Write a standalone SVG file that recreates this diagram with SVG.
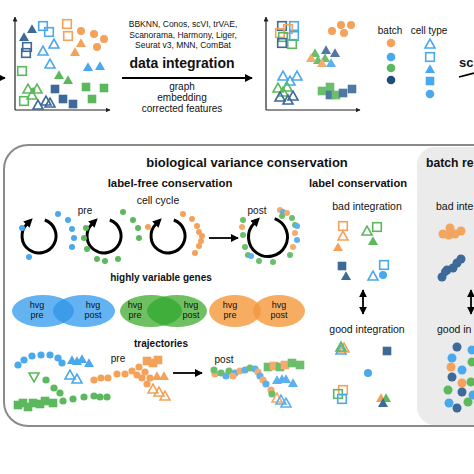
<svg xmlns="http://www.w3.org/2000/svg" xmlns:xlink="http://www.w3.org/1999/xlink" width="474" height="474" viewBox="0 0 474 474">
<style>
text{font-family:"Liberation Sans",Arial,sans-serif;fill:#111}
.b{font-weight:bold}
.fo{fill:#f4a259}.fb{fill:#4aa8ec}.fg{fill:#5cb85c}.fd{fill:#3d6a99}
.so{fill:none;stroke:#f4a259;stroke-width:1.6}.sb{fill:none;stroke:#4aa8ec;stroke-width:1.6}
.sg{fill:none;stroke:#5cb85c;stroke-width:1.6}.sd{fill:none;stroke:#3d6a99;stroke-width:1.6}
.ax{stroke:#222;stroke-width:1.2;fill:none}
.cyc{fill:none;stroke:#000;stroke-width:3;marker-end:url(#ah)}
.arr{stroke:#000;stroke-width:1.8;fill:none}
.t{opacity:.9}
</style>
<defs>
<path id="T" d="M0,-4.8 L5,4 L-5,4 Z"/>
<path id="V" d="M0,4.8 L5,-4 L-5,-4 Z"/>
<rect id="S" x="-4.3" y="-4.3" width="8.6" height="8.6"/>
<circle id="C" r="4"/>
<circle id="c" r="3"/>
<circle id="D" r="3.6"/>
<marker id="ah" viewBox="0 0 10 10" refX="1" refY="5" markerWidth="9" markerHeight="9" markerUnits="userSpaceOnUse" orient="auto"><path d="M0,0 L10,5 L0,10 Z" fill="#000"/></marker>
<marker id="ax" viewBox="0 0 10 10" refX="9" refY="5" markerWidth="5" markerHeight="5" markerUnits="userSpaceOnUse" orient="auto"><path d="M0,0 L10,5 L0,10 Z" fill="#222"/></marker>
<marker id="ar" viewBox="0 0 10 10" refX="9" refY="5" markerWidth="8" markerHeight="8" markerUnits="userSpaceOnUse" orient="auto-start-reverse"><path d="M0,0 L10,5 L0,10 Z" fill="#000"/></marker>
<clipPath id="cb"><ellipse cx="43" cy="311" rx="31" ry="16"/></clipPath>
<clipPath id="cg"><ellipse cx="151" cy="311" rx="31" ry="16"/></clipPath>
<clipPath id="co"><ellipse cx="235" cy="311" rx="26" ry="16"/></clipPath>
</defs>

<!-- panel backgrounds -->
<rect x="417" y="147" width="80" height="278" rx="18" fill="#ebebeb"/>
<rect x="4" y="145" width="520" height="281" rx="24" fill="none" stroke="#8a8a8a" stroke-width="2"/>

<g id="connectors">
<path d="M0,78 L5,78" class="arr" marker-end="url(#ar)"/>
<path d="M122,78 L252,78" class="arr" marker-end="url(#ar)"/>
<path d="M459,77 Q466,75 474,73" class="arr"/>
<path d="M209,238 L238,238" class="arr" marker-end="url(#ar)"/>
<path d="M173,373 L202,373" class="arr" marker-end="url(#ar)"/>
<path d="M363,290 L363,314" class="arr" marker-start="url(#ar)" marker-end="url(#ar)"/>
<path d="M471,290 L471,314" class="arr" marker-start="url(#ar)" marker-end="url(#ar)"/>
</g>

<!-- before integration plot -->
<g id="plot-before">
<path class="ax" d="M15,110 L15,17" marker-end="url(#ax)"/>
<path class="ax" d="M15,110 L110,110" marker-end="url(#ax)"/>
<use href="#T" x="32" y="29" class="fd"/><use href="#T" x="24" y="37" class="fd"/>
<use href="#S" x="43" y="26" class="sb"/><use href="#S" x="49" y="32" class="sb"/>
<use href="#S" x="67" y="24" class="so"/><use href="#S" x="68" y="36" class="so"/>
<use href="#C" x="81" y="31" class="fo"/><use href="#C" x="94" y="34" class="fo"/><use href="#C" x="104" y="39" class="fo"/><use href="#C" x="97" y="47" class="fo"/>
<use href="#T" x="81" y="43" class="fo"/><use href="#T" x="75" y="52" class="fo"/>
<use href="#S" x="27" y="47" class="sd"/><use href="#S" x="26" y="53" class="sd"/>
<use href="#T" x="43" y="51" class="sb"/><use href="#T" x="54" y="44" class="sb"/><use href="#T" x="50" y="64" class="sb"/>
<use href="#T" x="88" y="67" class="fb"/><use href="#T" x="100" y="66" class="fb"/>
<use href="#S" x="22" y="71" class="sg"/>
<use href="#T" x="59" y="75" class="fg"/><use href="#T" x="68" y="80" class="fg"/>
<use href="#T" x="28" y="89" class="sg"/><use href="#T" x="37" y="89" class="sg"/><use href="#T" x="32" y="95" class="sg"/>
<circle cx="33" cy="90" r="2.5" class="fg"/>
<use href="#S" x="24" y="101" class="sg"/>
<use href="#T" x="38" y="105" class="sd"/><use href="#T" x="46" y="101" class="sd"/><use href="#T" x="50" y="103" class="sd"/>
<use href="#S" x="55" y="89" class="fd"/><use href="#S" x="63" y="99" class="fd"/><use href="#S" x="73" y="104" class="fd"/>
<use href="#S" x="86" y="87" class="fg"/><use href="#S" x="104" y="88" class="fg"/><use href="#S" x="92" y="99" class="fg"/>
</g>

<g id="data-integration">
<text x="183" y="27" font-size="8.5" text-anchor="middle">BBKNN, Conos, scVI, trVAE,</text>
<text x="183" y="38" font-size="8.5" text-anchor="middle">Scanorama, Harmony, Liger,</text>
<text x="183" y="48" font-size="8.5" text-anchor="middle">Seurat v3, MNN, ComBat</text>
<text x="182" y="68" font-size="14" class="b" text-anchor="middle">data integration</text>
<text x="182" y="90" font-size="10" text-anchor="middle">graph</text>
<text x="182" y="101" font-size="10" text-anchor="middle">embedding</text>
<text x="182" y="112" font-size="10" text-anchor="middle">corrected features</text>
</g>

<!-- after integration plot -->
<g id="plot-after">
<path class="ax" d="M266,110 L266,17" marker-end="url(#ax)"/>
<path class="ax" d="M266,110 L360,110" marker-end="url(#ax)"/>
<use href="#S" x="282" y="26" class="sd"/><use href="#S" x="294" y="26" class="sb"/><use href="#S" x="288" y="29" class="so"/>
<use href="#S" x="280" y="33" class="so"/><use href="#S" x="294" y="36" class="sb"/><use href="#S" x="283" y="37" class="sg"/>
<use href="#S" x="282" y="43" class="sd"/><use href="#S" x="292" y="44" class="sg"/>
<use href="#C" x="332" y="31" class="fo"/><use href="#C" x="341" y="25" class="fo"/><use href="#C" x="351" y="25" class="fo"/><use href="#C" x="344" y="33" class="fo"/>
<g class="t">
<use href="#T" x="315" y="53" class="fg"/><use href="#T" x="326" y="50" class="fd"/><use href="#T" x="335" y="53" class="fd"/>
<use href="#T" x="318" y="60" class="fg"/><use href="#T" x="325" y="58" class="fg"/><use href="#T" x="322" y="63" class="fo"/>
<use href="#T" x="331" y="63" class="fb"/><use href="#T" x="311" y="58" class="fo"/>
</g>
<use href="#T" x="283" y="76" class="sb"/><use href="#T" x="297" y="76" class="sb"/><use href="#T" x="290" y="81" class="sb"/>
<use href="#T" x="278" y="88" class="sg"/><use href="#T" x="287" y="87" class="sg"/><use href="#T" x="283" y="92" class="sg"/>
<use href="#T" x="280" y="97" class="sd"/><use href="#T" x="288" y="100" class="sd"/><use href="#T" x="293" y="96" class="sd"/>
<g class="t">
<use href="#S" x="322" y="91" class="fg"/><use href="#S" x="330" y="87" class="fg"/><use href="#S" x="330" y="95" class="fd"/>
<use href="#S" x="336" y="95" class="fg"/><use href="#S" x="343" y="93" class="fd"/><use href="#S" x="352" y="89" class="fd"/>
</g>
</g>

<g id="legend">
<text x="390" y="34" font-size="10" text-anchor="middle">batch</text>
<text x="429" y="34" font-size="10" text-anchor="middle">cell type</text>
<circle cx="391" cy="43" r="4.3" class="fo"/><circle cx="391" cy="57" r="4.3" class="fb"/>
<circle cx="391" cy="68" r="4.3" class="fg"/><circle cx="391" cy="80" r="4.3" fill="#1f4e7a"/>
<use href="#T" x="430" y="44" class="sb"/><use href="#S" x="430" y="57" class="sb"/>
<use href="#T" x="430" y="69" class="fb"/><use href="#S" x="430" y="81" class="fb"/><circle cx="430" cy="94" r="4.3" class="fb"/>
</g>
<text x="459" y="67" font-size="13" class="b">sc</text>

<!-- titles -->
<text x="247" y="167" font-size="13" class="b" text-anchor="middle">biological variance conservation</text>
<text x="170" y="187" font-size="11.4" class="b" text-anchor="middle">label-free conservation</text>
<text x="358" y="187" font-size="11.2" class="b" text-anchor="middle">label conservation</text>
<text x="426" y="167" font-size="12.2" class="b">batch re</text>

<g id="cell-cycle">
<text x="158" y="204" font-size="10.5" text-anchor="middle">cell cycle</text>
<text x="85" y="214" font-size="10" text-anchor="middle">pre</text>
<text x="257" y="214" font-size="10" text-anchor="middle">post</text>
<path class="cyc" d="M44.8,220 A17,17 0 1 1 27,224"/>
<path class="cyc" d="M109.8,220 A17,17 0 1 1 92,224"/>
<path class="cyc" d="M173.8,220 A17,17 0 1 1 156,224"/>
<path class="cyc" d="M274.7,218.7 A19.5,19.5 0 1 1 254.2,223.2"/>
<g class="fb"><use href="#c" x="22" y="228"/><use href="#c" x="58" y="214"/><use href="#c" x="68" y="220"/><use href="#c" x="72" y="229"/><use href="#c" x="74" y="238"/><use href="#c" x="72" y="247"/><use href="#c" x="29" y="257"/></g>
<g class="fg"><use href="#c" x="86" y="228"/><use href="#c" x="84" y="238"/><use href="#c" x="87" y="249"/><use href="#c" x="97" y="259"/><use href="#c" x="105" y="261"/><use href="#c" x="118" y="259"/><use href="#c" x="123" y="212"/><use href="#c" x="133" y="220"/><use href="#c" x="138" y="228"/><use href="#c" x="139" y="238"/></g>
<g class="fo"><use href="#c" x="148" y="227"/><use href="#c" x="183" y="214"/><use href="#c" x="192" y="219"/><use href="#c" x="197" y="226"/><use href="#c" x="199" y="232"/><use href="#c" x="202" y="236"/><use href="#c" x="201" y="241"/><use href="#c" x="199" y="246"/><use href="#c" x="195" y="253"/></g>
<g class="t">
<use href="#c" x="243" y="220" class="fg"/><use href="#c" x="242" y="227" class="fo"/><use href="#c" x="243" y="235" class="fg"/><use href="#c" x="245" y="247" class="fg"/><use href="#c" x="248" y="255" class="fg"/><use href="#c" x="251" y="256" class="fb"/><use href="#c" x="259" y="261" class="fg"/><use href="#c" x="273" y="262" class="fg"/>
<use href="#c" x="280" y="210" class="fo"/><use href="#c" x="283" y="212" class="fb"/><use href="#c" x="287" y="213" class="fo"/><use href="#c" x="282" y="216" class="fg"/><use href="#c" x="292" y="218" class="fg"/><use href="#c" x="295" y="225" class="fg"/><use href="#c" x="297" y="226" class="fb"/><use href="#c" x="295" y="233" class="fo"/><use href="#c" x="297" y="240" class="fb"/><use href="#c" x="293" y="247" class="fo"/><use href="#c" x="290" y="255" class="fg"/>
</g>
</g>

<g id="hvg">
<text x="161" y="281" font-size="10" class="b" text-anchor="middle">highly variable genes</text>
<ellipse cx="43" cy="311" rx="31" ry="16" fill="#63b3f2"/><ellipse cx="84" cy="311" rx="31" ry="16" fill="#63b3f2"/>
<ellipse cx="84" cy="311" rx="31" ry="16" fill="#3c9cea" clip-path="url(#cb)"/>
<ellipse cx="151" cy="311" rx="31" ry="16" fill="#6fc062"/><ellipse cx="177" cy="311" rx="30" ry="16" fill="#6fc062"/>
<ellipse cx="177" cy="311" rx="30" ry="16" fill="#3fae3a" clip-path="url(#cg)"/>
<ellipse cx="235" cy="311" rx="26" ry="16" fill="#f6ad62"/><ellipse cx="279" cy="311" rx="26" ry="16" fill="#f6ad62"/>
<ellipse cx="279" cy="311" rx="26" ry="16" fill="#f39c45" clip-path="url(#co)"/>
<g font-size="9" text-anchor="middle">
<text x="37" y="308">hvg</text><text x="37" y="318">pre</text><text x="93" y="308">hvg</text><text x="93" y="318">post</text>
<text x="135" y="308">hvg</text><text x="135" y="318">pre</text><text x="191" y="308">hvg</text><text x="191" y="318">post</text>
<text x="230" y="308">hvg</text><text x="230" y="318">pre</text><text x="279" y="308">hvg</text><text x="279" y="318">post</text>
</g>
</g>

<g id="trajectories">
<text x="161" y="347" font-size="10" class="b" text-anchor="middle">trajectories</text>
<text x="118" y="362" font-size="10" text-anchor="middle">pre</text>
<text x="224" y="363" font-size="10" text-anchor="middle">post</text>
<g class="fb"><use href="#D" x="18" y="365"/><use href="#D" x="24" y="360"/><use href="#D" x="32" y="356"/><use href="#D" x="41" y="355"/><use href="#D" x="50" y="355"/><use href="#D" x="58" y="358"/><use href="#D" x="62" y="363"/></g>
<g class="fb"><use href="#T" x="72" y="360"/><use href="#T" x="77" y="361"/><use href="#T" x="82" y="359"/><use href="#T" x="89" y="363"/></g>
<use href="#T" x="70" y="375" class="sb"/><use href="#T" x="77" y="379" class="sb"/>
<use href="#V" x="34" y="377" class="sg"/>
<g class="fg"><use href="#D" x="46" y="380"/><use href="#D" x="54" y="388"/><use href="#D" x="60" y="393"/><use href="#D" x="63" y="401"/><use href="#D" x="73" y="399"/><use href="#D" x="84" y="397"/><use href="#D" x="94" y="396"/><use href="#D" x="100" y="397"/><use href="#D" x="107" y="397"/>
<use href="#S" x="18" y="405"/><use href="#S" x="23" y="403"/><use href="#S" x="28" y="407"/><use href="#S" x="33" y="403"/><use href="#S" x="40" y="404"/><use href="#S" x="45" y="401"/><use href="#S" x="53" y="403"/></g>
<g class="fo"><use href="#D" x="94" y="380"/><use href="#D" x="101" y="378"/><use href="#D" x="108" y="378"/><use href="#D" x="117" y="374"/><use href="#D" x="125" y="374"/><use href="#D" x="132" y="371"/><use href="#D" x="139" y="367"/><use href="#D" x="137" y="375"/><use href="#D" x="142" y="378"/><use href="#D" x="147" y="384"/><use href="#D" x="150" y="378"/><use href="#D" x="145" y="372"/>
<use href="#S" x="147" y="361"/><use href="#S" x="153" y="363"/><use href="#S" x="158" y="360"/>
<use href="#T" x="157" y="376"/><use href="#T" x="164" y="376"/></g>
<use href="#T" x="153" y="389" class="so"/><use href="#T" x="159" y="392" class="so"/><use href="#T" x="165" y="396" class="so"/>
<g class="t">
<use href="#D" x="215" y="374" class="fo"/><use href="#D" x="214" y="370" class="fg"/><use href="#D" x="221" y="373" class="fg"/><use href="#D" x="226" y="376" class="fb"/><use href="#D" x="229" y="371" class="fg"/><use href="#D" x="235" y="373" class="fb"/><use href="#D" x="233" y="376" class="fo"/>
<use href="#D" x="240" y="371" class="fo"/><use href="#D" x="245" y="370" class="fb"/><use href="#D" x="250" y="368" class="fg"/><use href="#D" x="255" y="369" class="fb"/><use href="#D" x="258" y="372" class="fo"/>
<use href="#D" x="260" y="376" class="fb"/><use href="#D" x="263" y="380" class="fo"/><use href="#D" x="266" y="384" class="fb"/>
<use href="#S" x="268" y="367" class="fg"/><use href="#S" x="274" y="366" class="fo"/><use href="#S" x="280" y="367" class="fg"/><use href="#S" x="285" y="365" class="fo"/><use href="#S" x="292" y="363" class="fg"/><use href="#S" x="300" y="365" class="fg"/>
<use href="#T" x="277" y="380" class="fb"/><use href="#T" x="282" y="379" class="fb"/><use href="#T" x="286" y="379" class="fb"/><use href="#T" x="293" y="383" class="fb"/>
<use href="#D" x="271" y="390" class="fo"/><use href="#D" x="272" y="394" class="fg"/>
<use href="#T" x="277" y="398" class="so"/><use href="#T" x="281" y="400" class="sb"/><use href="#T" x="286" y="403" class="sb"/>
</g>
</g>

<g id="label-conservation">
<text x="367" y="210" font-size="10.5" text-anchor="middle">bad integration</text>
<use href="#S" x="343" y="226" class="so"/><use href="#T" x="343" y="236" class="so"/><use href="#T" x="338" y="247" class="fo"/>
<use href="#T" x="367" y="231" class="sg"/><use href="#S" x="377" y="227" class="sg"/><use href="#T" x="373" y="241" class="fg"/>
<use href="#S" x="342" y="266" class="fd"/><use href="#T" x="346" y="276" class="fd"/>
<use href="#T" x="373" y="276" class="sb"/><use href="#C" x="383" y="275" class="fb"/><use href="#S" x="384" y="265" class="sb"/>
<text x="367" y="333" font-size="10.5" text-anchor="middle">good integration</text>
<use href="#T" x="341" y="350" class="sb"/><use href="#T" x="344" y="348" class="so"/><use href="#T" x="341" y="347" class="sg"/>
<use href="#S" x="387" y="351" class="fd"/>
<use href="#C" x="368" y="373" class="fb"/>
<use href="#S" x="343" y="390" class="so"/><use href="#S" x="338" y="394" class="sg"/><use href="#S" x="342" y="399" class="sb"/>
<use href="#T" x="381" y="398" class="fo"/><use href="#T" x="386" y="398" class="fg"/><use href="#T" x="383" y="403" class="fd"/>
</g>

<g id="batch-removal">
<text x="436" y="210" font-size="10.5">bad inte</text>
<g class="fo" opacity=".95"><circle cx="443" cy="234" r="4.5"/><circle cx="450" cy="228" r="4.5"/><circle cx="455" cy="234" r="4.5"/><circle cx="461" cy="231" r="4.5"/><circle cx="449" cy="235" r="4.5"/></g>
<g class="fd"><circle cx="442" cy="277" r="4.5"/><circle cx="447" cy="270" r="4.5"/><circle cx="453" cy="268" r="4.5"/><circle cx="457" cy="263" r="4.5"/><circle cx="461" cy="259" r="4.5"/><circle cx="445" cy="272" r="4"/></g>
<text x="437" y="333" font-size="10.5">good in</text>
<circle cx="457" cy="347" r="4.5" class="fd"/><circle cx="472" cy="350" r="4.5" class="fb"/><circle cx="452" cy="358" r="4.5" class="fb"/><circle cx="472" cy="362" r="4.5" class="fg"/>
<circle cx="451" cy="367" r="4.5" class="fo"/><circle cx="462" cy="370" r="4.5" class="fb"/><circle cx="452" cy="377" r="4.5" class="fd"/><circle cx="462" cy="383" r="4.5" class="fo"/>
<circle cx="471" cy="382" r="4.5" class="fg"/><circle cx="448" cy="390" r="4.5" class="fg"/><circle cx="462" cy="392" r="4.5" class="fd"/><circle cx="473" cy="395" r="4.5" class="fb"/>
<circle cx="468" cy="402" r="4.5" class="fg"/><circle cx="449" cy="403" r="4.5" class="fb"/><circle cx="457" cy="408" r="4.5" class="fd"/>
</g>
</svg>
